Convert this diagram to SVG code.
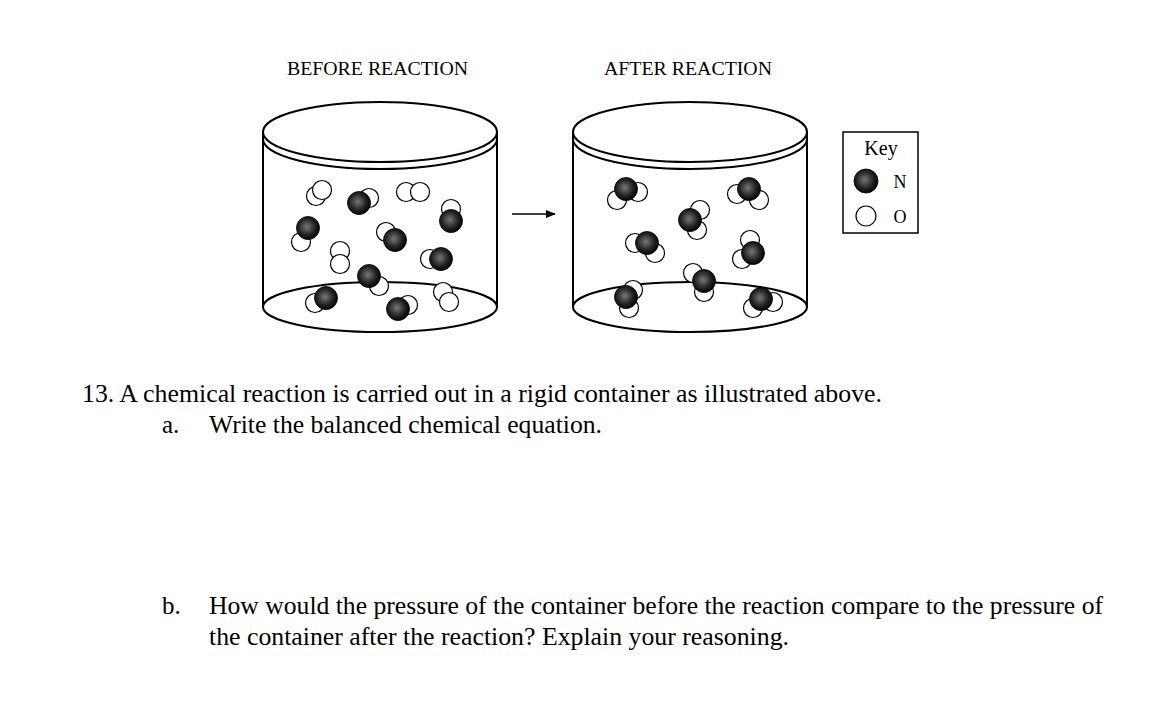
<svg xmlns="http://www.w3.org/2000/svg" width="1174" height="722" viewBox="0 0 1174 722">
<style>
.t{font-family:"Liberation Serif",serif;fill:#000}
.lab{font-size:19.5px}
.q{font-size:25px}
.cyl{fill:none;stroke:#000;stroke-width:2}
.o{fill:#fff;stroke:#000;stroke-width:1.2}
.n{fill:url(#ng);stroke:#000;stroke-width:0.8}
</style>
<defs>
<radialGradient id="ng" cx="0.45" cy="0.45" r="0.6">
<stop offset="0" stop-color="#777"/><stop offset="0.6" stop-color="#222"/><stop offset="1" stop-color="#000"/>
</radialGradient>
<marker id="ar" markerWidth="10" markerHeight="8" refX="9" refY="4" orient="auto" markerUnits="userSpaceOnUse"><path d="M0,0 L10,4 L0,8 Z" fill="#000"/></marker>
</defs>
<text class="t lab" x="287" y="75" textLength="181" lengthAdjust="spacingAndGlyphs">BEFORE REACTION</text>
<text class="t lab" x="604" y="75" textLength="168" lengthAdjust="spacingAndGlyphs">AFTER REACTION</text>
<g id="before">
<ellipse class="cyl" cx="380" cy="132" rx="117" ry="30"/>
<path class="cyl" d="M263,132 V139 A117,30 0 0 0 497,139 V132"/>
<path class="cyl" d="M263,139 V307 M497,139 V307"/>
<ellipse class="cyl" cx="380" cy="307" rx="117" ry="25"/>
<circle class="o" cx="316" cy="196" r="9.5"/><circle class="o" cx="322" cy="190" r="9.5"/>
<circle class="o" cx="369" cy="198" r="9.5"/><circle class="n" cx="359" cy="203" r="11.5"/>
<circle class="o" cx="406" cy="192" r="9.5"/><circle class="o" cx="420" cy="192" r="9.5"/>
<circle class="o" cx="451" cy="209" r="9.5"/><circle class="n" cx="451" cy="221" r="11.5"/>
<circle class="o" cx="301" cy="242" r="9.5"/><circle class="n" cx="308" cy="228" r="11.5"/>
<circle class="o" cx="386" cy="232" r="9.5"/><circle class="n" cx="395" cy="240" r="11.5"/>
<circle class="o" cx="340" cy="251" r="9.5"/><circle class="o" cx="340" cy="264" r="9.5"/>
<circle class="o" cx="430" cy="259" r="9.5"/><circle class="n" cx="441" cy="259" r="11.5"/>
<circle class="o" cx="379" cy="286" r="9.5"/><circle class="n" cx="369" cy="276" r="11.5"/>
<circle class="o" cx="443" cy="292" r="9.5"/><circle class="o" cx="449" cy="302" r="9.5"/>
<circle class="o" cx="315" cy="303" r="9.5"/><circle class="n" cx="326" cy="298" r="11.5"/>
<circle class="o" cx="408" cy="305" r="9.5"/><circle class="n" cx="398" cy="309" r="11.5"/>
</g>
<g id="connectors">
<line x1="512" y1="214" x2="555" y2="214" stroke="#000" stroke-width="1.5" marker-end="url(#ar)"/>
</g>
<g id="after">
<ellipse class="cyl" cx="690" cy="132" rx="117" ry="30"/>
<path class="cyl" d="M573,132 V139 A117,30 0 0 0 807,139 V132"/>
<path class="cyl" d="M573,139 V307 M807,139 V307"/>
<ellipse class="cyl" cx="690" cy="307" rx="117" ry="25"/>
<circle class="o" cx="617" cy="200" r="9.5"/><circle class="o" cx="638" cy="192" r="9.5"/><circle class="n" cx="626" cy="189" r="11.5"/>
<circle class="o" cx="737" cy="194" r="9.5"/><circle class="o" cx="759" cy="200" r="9.5"/><circle class="n" cx="749" cy="189" r="11.5"/>
<circle class="o" cx="697" cy="230" r="9.5"/><circle class="o" cx="700" cy="210" r="9.5"/><circle class="n" cx="690" cy="220" r="11.5"/>
<circle class="o" cx="635" cy="243" r="9.5"/><circle class="o" cx="655" cy="253" r="9.5"/><circle class="n" cx="647" cy="243" r="11.5"/>
<circle class="o" cx="750" cy="240" r="9.5"/><circle class="o" cx="742" cy="259" r="9.5"/><circle class="n" cx="753" cy="253" r="11.5"/>
<circle class="o" cx="693" cy="273" r="9.5"/><circle class="o" cx="704" cy="292" r="9.5"/><circle class="n" cx="704" cy="281" r="11.5"/>
<circle class="o" cx="633" cy="290" r="9.5"/><circle class="o" cx="629" cy="308" r="9.5"/><circle class="n" cx="626" cy="297" r="11.5"/>
<circle class="o" cx="773" cy="302" r="9.5"/><circle class="o" cx="753" cy="308" r="9.5"/><circle class="n" cx="761" cy="299" r="11.5"/>
</g>
<g id="key">
<rect x="843" y="132" width="75" height="101" fill="none" stroke="#000" stroke-width="1.5"/>
<text class="t" x="881" y="155" font-size="20" text-anchor="middle">Key</text>
<circle class="n" cx="866" cy="181" r="12"/>
<text class="t" x="900" y="188" font-size="18" text-anchor="middle">N</text>
<circle class="o" cx="866" cy="216" r="10"/>
<text class="t" x="900" y="223" font-size="18" text-anchor="middle">O</text>
</g>
<text class="t q" x="82" y="402" textLength="800" lengthAdjust="spacingAndGlyphs">13. A chemical reaction is carried out in a rigid container as illustrated above.</text>
<text class="t q" x="162" y="433">a.</text>
<text class="t q" x="209" y="433" textLength="393" lengthAdjust="spacingAndGlyphs">Write the balanced chemical equation.</text>
<text class="t q" x="162" y="614">b.</text>
<text class="t q" x="209" y="614" textLength="894" lengthAdjust="spacingAndGlyphs">How would the pressure of the container before the reaction compare to the pressure of</text>
<text class="t q" x="209" y="645" textLength="580" lengthAdjust="spacingAndGlyphs">the container after the reaction?  Explain your reasoning.</text>
</svg>
